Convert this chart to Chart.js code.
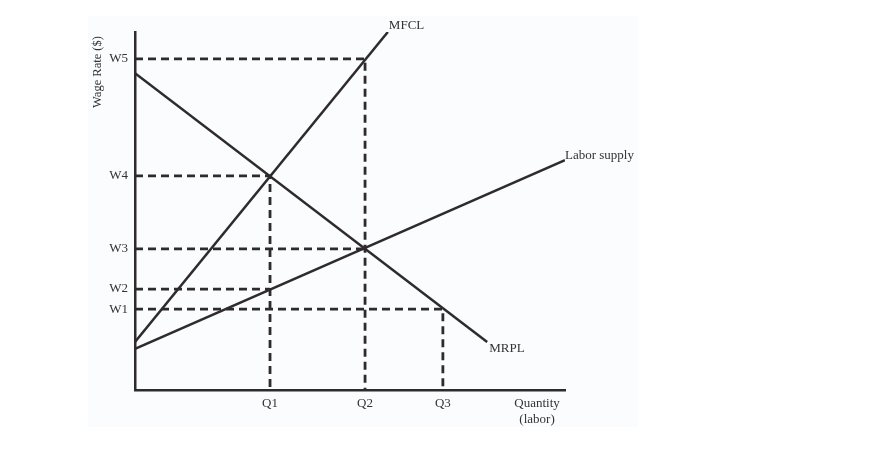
<!DOCTYPE html>
<html>
<head>
<meta charset="utf-8">
<script src="https://cdn.jsdelivr.net/npm/chart.js@4.4.1/dist/chart.umd.min.js"></script>
<style>
  html, body { margin: 0; padding: 0; background: #ffffff; }
  #wrap { width: 885px; height: 454px; }
</style>
</head>
<body>
<div id="wrap"><canvas id="chart" width="885" height="454"></canvas></div>
<script>
// ── Data (arbitrary units: quantity 0–100, wage 0–100) ───────────────────────
const wageLabels = ["W1", "W2", "W3", "W4", "W5"];
const wageLevels = [22.6, 28.2, 39.4, 59.8, 92.5];

const qtyLabels = ["Q1", "Q2", "Q3"];
const qtyLevels = [31.4, 53.5, 71.6];

const axisLabelX = ["Quantity", "(labor)"];
const axisLabelXPos = 93.5;
const axisLabelY = "Wage Rate ($)";

// curve end points [start, end]
const mfclX  = [0, 58.8];
const mfclY  = [13.4, 100];
const mrplX  = [0, 81.9];
const mrplY  = [88.5, 13.4];
const supplyX = [0, 100];
const supplyY = [11.5, 64.2];

const INK = "#2f2b2c";
const FONT = "'Liberation Serif', 'Times New Roman', serif";

const pts = (xs, ys) => xs.map((x, i) => ({ x, y: ys[i] }));

// guide lines: W1 → Q3, W2 → Q1, W3 → Q2, W4 → Q1, W5 → Q2
const guides = [
  { w: 0, q: 2, drop: true },
  { w: 1, q: 0, drop: false },
  { w: 2, q: 1, drop: false },
  { w: 3, q: 0, drop: true },
  { w: 4, q: 1, drop: true },
];

const guideSets = guides.map(g => {
  const data = [
    { x: 0, y: wageLevels[g.w] },
    { x: qtyLevels[g.q], y: wageLevels[g.w] },
  ];
  if (g.drop) data.push({ x: qtyLevels[g.q], y: 0 });
  return {
    data, borderColor: INK, borderWidth: 2.8, borderDash: [8, 5],
    pointRadius: 0, fill: false, tension: 0,
  };
});

const curve = (label, data) => ({
  label, data, borderColor: INK, borderWidth: 2.5,
  pointRadius: 0, fill: false, tension: 0,
});

const curves = [
  curve("MFCL", pts(mfclX, mfclY)),
  curve("MRPL", pts(mrplX, mrplY)),
  curve("Labor supply", pts(supplyX, supplyY)),
];

// ── Plugins ──────────────────────────────────────────────────────────────────
const paperBg = {
  id: "paperBg",
  beforeDraw(chart) {
    const ctx = chart.ctx;
    ctx.save();
    ctx.fillStyle = "#fafcfd";
    ctx.fillRect(88, 16, 550, 411);
    ctx.restore();
  },
};

const curveLabels = {
  id: "curveLabels",
  afterDatasetsDraw(chart) {
    const { ctx, scales: { x, y } } = chart;
    const put = (text, px, py, dx, dy) => {
      ctx.fillText(text, x.getPixelForValue(px) + dx, y.getPixelForValue(py) + dy);
    };
    ctx.save();
    ctx.fillStyle = "#333";
    ctx.font = "13px " + FONT;
    ctx.textAlign = "left";
    ctx.textBaseline = "middle";
    put("MFCL", mfclX[1], mfclY[1], 1, -6);
    put("MRPL", mrplX[1], mrplY[1], 2, 7);
    put("Labor supply", supplyX[1], supplyY[1], 0, -5);

    // y axis title, near the top of the axis
    ctx.translate(x.left - 37, y.top + 40);
    ctx.rotate(-Math.PI / 2);
    ctx.textAlign = "center";
    ctx.font = "12.5px " + FONT;
    ctx.fillText(axisLabelY, 0, 0);
    ctx.restore();
  },
};

// ── Chart ────────────────────────────────────────────────────────────────────
new Chart(document.getElementById("chart"), {
  type: "line",
  data: { datasets: [...guideSets, ...curves] },
  options: {
    responsive: false,
    animation: false,
    layout: { padding: { left: 0, top: 32, right: 320, bottom: 0 } },
    plugins: { legend: { display: false }, tooltip: { enabled: false } },
    scales: {
      x: {
        type: "linear", min: 0, max: 100,
        grid: { display: false, drawTicks: false },
        border: { display: true, color: INK, width: 2.5 },
        afterBuildTicks: s => {
          s.ticks = [...qtyLevels, axisLabelXPos].map(v => ({ value: v }));
        },
        afterFit: s => { s.height = 64; },
        ticks: {
          autoSkip: false, maxRotation: 0, padding: 6,
          color: "#333", font: { family: FONT, size: 13 },
          callback: (v) => {
            const i = qtyLevels.indexOf(v);
            return i >= 0 ? qtyLabels[i] : axisLabelX;
          },
        },
      },
      y: {
        type: "linear", min: 0, max: 100,
        grid: { display: false, drawTicks: false },
        border: { display: true, color: INK, width: 2.5 },
        afterBuildTicks: s => {
          s.ticks = wageLevels.map(v => ({ value: v }));
        },
        afterFit: s => { s.width = 135; },
        ticks: {
          autoSkip: false, padding: 7,
          color: "#333", font: { family: FONT, size: 13 },
          callback: (v) => wageLabels[wageLevels.indexOf(v)],
        },
      },
    },
  },
  plugins: [paperBg, curveLabels],
});
</script>
</body>
</html>
